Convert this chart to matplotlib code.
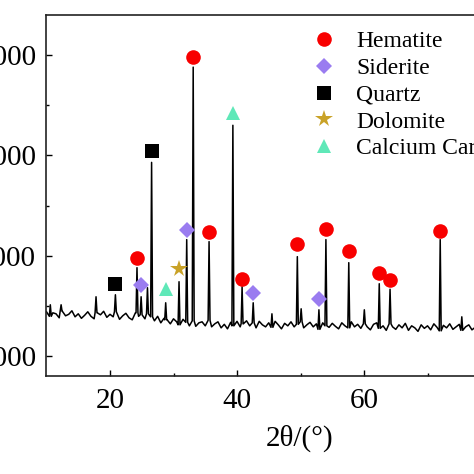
import numpy as np
import matplotlib
matplotlib.use("Agg")
import matplotlib.pyplot as plt
from matplotlib.lines import Line2D
from matplotlib.ticker import MultipleLocator

plt.rcParams['font.family'] = ['Liberation Serif', 'DejaVu Serif']

# XRD background, read every 0.5 deg from 10 to 80 (2theta)
base_start = 10.0
base_step = 0.5
baseline = [1440, 1395, 1430, 1420, 1380, 1445, 1400, 1415, 1450, 1390,
            1420, 1375, 1405, 1440, 1395, 1370, 1430, 1410, 1445, 1385,
            1415, 1390, 1440, 1365, 1400, 1425, 1380, 1360, 1430, 1395,
            1410, 1370, 1420, 1390, 1350, 1395, 1330, 1375, 1360, 1320,
            1370, 1340, 1310, 1365, 1335, 1300, 1350, 1295, 1330, 1340,
            1300, 1355, 1290, 1320, 1340, 1280, 1315, 1270, 1335, 1300,
            1345, 1290, 1320, 1350, 1300, 1330, 1280, 1345, 1310, 1290,
            1330, 1285, 1345, 1310, 1270, 1325, 1300, 1340, 1290, 1315,
            1340, 1280, 1310, 1335, 1290, 1320, 1265, 1330, 1300, 1285,
            1325, 1295, 1270, 1330, 1300, 1280, 1340, 1290, 1315, 1275,
            1320, 1290, 1260, 1315, 1330, 1275, 1300, 1255, 1320, 1290,
            1265, 1310, 1280, 1325, 1255, 1300, 1280, 1245, 1310, 1275,
            1300, 1260, 1320, 1285, 1250, 1305, 1280, 1320, 1265, 1290,
            1315, 1255, 1290, 1310, 1260, 1285, 1250, 1300, 1270, 1285,
            1290]

# diffraction peaks: position and apex intensity
peak_pos = [10.6, 12.3, 17.8, 20.85, 24.25, 24.9, 25.9, 26.55, 28.77, 30.87,
            32.08, 33.1, 35.6, 39.35, 40.8, 42.55, 45.5, 49.5, 50.1, 52.9,
            54.0, 57.6, 60.05, 62.4, 64.1, 72.0, 75.4]
peak_top = [1510, 1510, 1590, 1610, 1880, 1590, 1680, 2930, 1530, 1740,
            2160, 3880, 2140, 3300, 1690, 1530, 1420, 1990, 1470, 1460,
            2160, 1930, 1460, 1720, 1665, 2160, 1390]

# phase markers
hematite_x = [24.25, 33.1, 35.6, 40.8, 49.5, 54.0, 57.6, 62.4, 64.1, 72.0]
hematite_y = [1980, 3978, 2239, 1768, 2114, 2266, 2047, 1830, 1758, 2249]
siderite_x = [24.9, 32.08, 42.55, 52.9]
siderite_y = [1708, 2256, 1625, 1568]
quartz_x = [20.85, 26.55]
quartz_y = [1718, 3047]
dolomite_x = [30.87]
dolomite_y = [1864]
calcite_x = [28.77, 39.35]
calcite_y = [1665, 3420]

phases = ["Hematite", "Siderite", "Quartz", "Dolomite", "Calcium Carbonate"]


def build_trace(half_width=0.15):
    bx = base_start + base_step * np.arange(len(baseline))
    by = np.array(baseline, dtype=float)
    keep = np.ones(len(bx), dtype=bool)
    for p in peak_pos:
        keep &= np.abs(bx - p) > half_width
    xs = list(bx[keep])
    ys = list(by[keep])
    for p, t in zip(peak_pos, peak_top):
        b = by[np.argmin(np.abs(bx - p))]
        xs += [p - half_width, p, p + half_width]
        ys += [b, t, b]
    order = np.argsort(xs)
    return np.array(xs)[order], np.array(ys)[order]


fig = plt.figure(figsize=(4.74, 4.74), dpi=100)
ax = fig.add_axes([0.0981, 0.2068, 0.9378, 0.7616])

tx, ty = build_trace()
ax.plot(tx, ty, '-', color='black', lw=1.1, zorder=2)

styles = [
    (hematite_x, hematite_y, 'o', '#f80000', 10.5),
    (siderite_x, siderite_y, 'D', '#9a7cf0', 8.5),
    (quartz_x, quartz_y, 's', 'black', 9.5),
    (dolomite_x, dolomite_y, '*', '#c9a227', 13),
    (calcite_x, calcite_y, '^', '#5fe8b8', 10.5),
]
handles = []
for (x, y, mk, col, ms), name in zip(styles, phases):
    ax.plot(x, y, mk, color=col, ms=ms, mew=0, linestyle='none', zorder=3)
    handles.append(Line2D([], [], marker=mk, color=col, ms=ms, mew=0,
                          linestyle='none'))

ax.set_xlim(10, 80)
ax.set_ylim(800, 4400)
ax.set_xticks([20, 40, 60])
ax.set_xticks([30, 50, 70], minor=True)
ax.set_yticks([1000, 2000, 3000, 4000])
ax.yaxis.set_minor_locator(MultipleLocator(500))

ax.tick_params(which='major', direction='in', length=4.5, width=1,
               labelsize=21)
ax.tick_params(which='minor', direction='in', length=2.5, width=1)
ax.tick_params(axis='x', pad=9)
ax.tick_params(axis='y', pad=7.5)
for s in ax.spines.values():
    s.set_linewidth(1.2)
    s.set_color('#222222')

ax.set_xlabel("2θ/(°)", fontsize=21)
ax.xaxis.set_label_coords(0.57, -0.135)

ax.legend(handles, phases, loc='upper left',
          bbox_to_anchor=(0.659, 0.935), bbox_transform=fig.transFigure,
          frameon=False, fontsize=17, handlelength=1.0,
          handletextpad=0.85, labelspacing=0.22, borderpad=0,
          borderaxespad=0, numpoints=1)

plt.savefig("out.png", dpi=100)
